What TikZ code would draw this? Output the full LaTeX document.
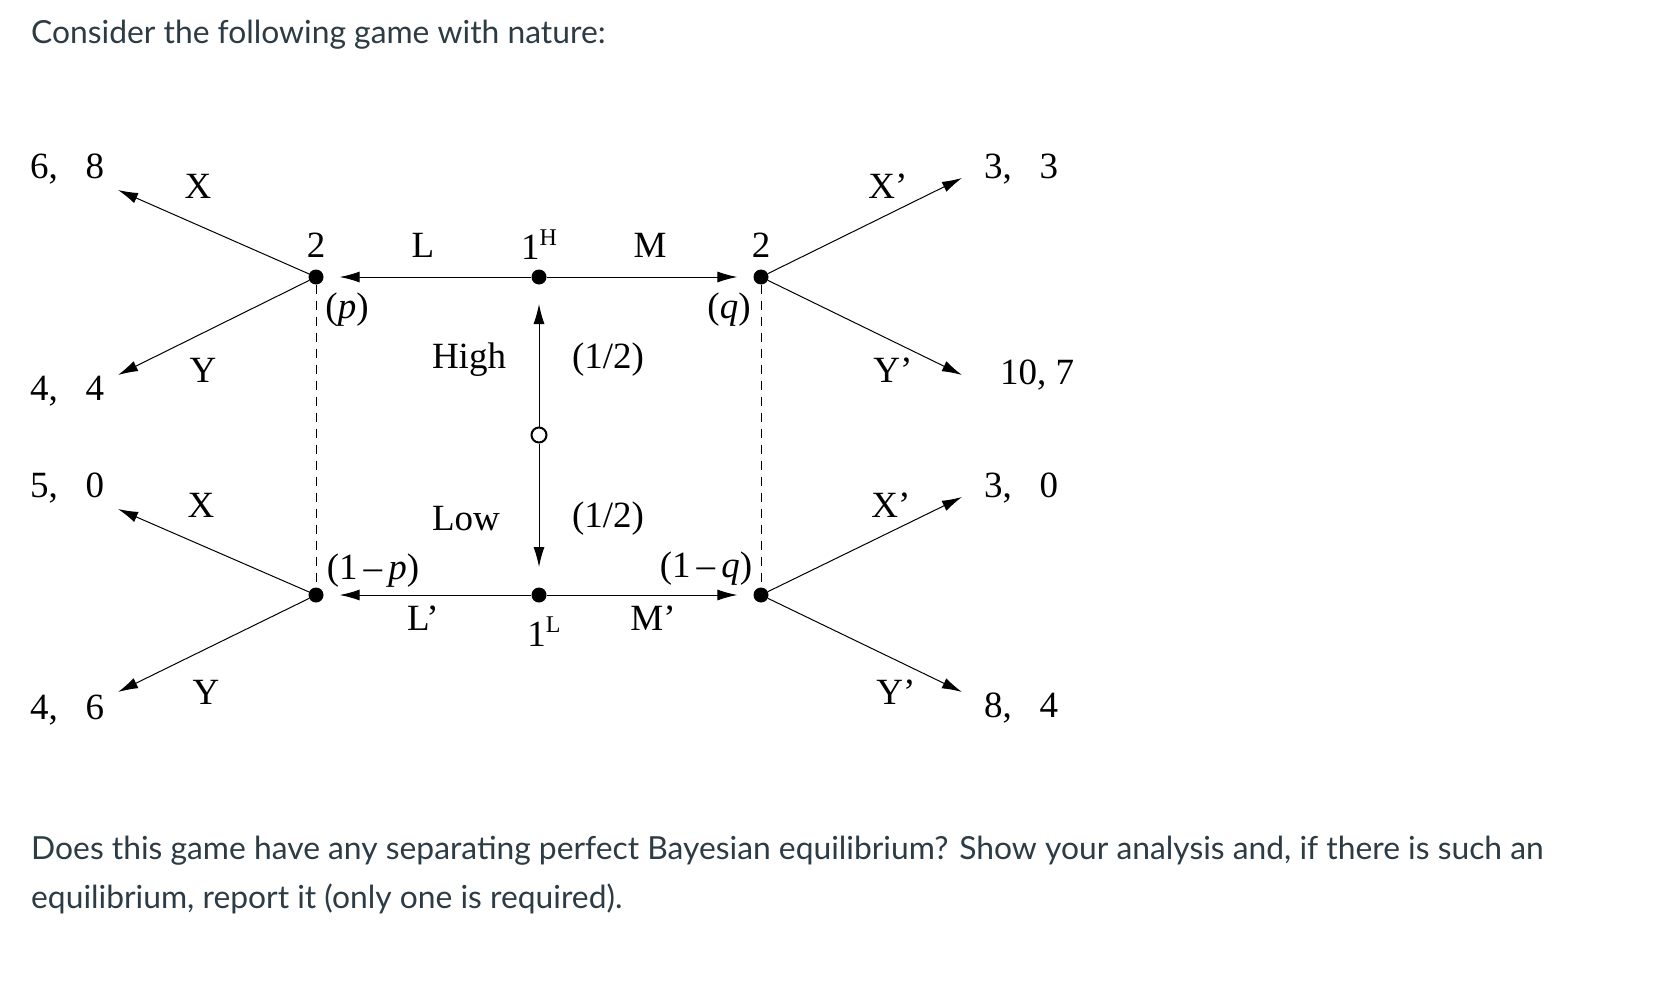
\documentclass[tikz,border=0pt]{standalone}
\usepackage{fontspec}
\setmainfont{Liberation Serif}
\newfontfamily\lato{Lato}
\usetikzlibrary{arrows.meta}
\definecolor{canvas}{HTML}{2D3B45}
\newcommand{\ap}{{\char"27}}
\begin{document}
\begin{tikzpicture}[x=1pt,y=-1pt,
 dot/.style={circle,fill=black,inner sep=0pt,minimum size=15pt},
 odot/.style={circle,draw=black,fill=white,line width=2pt,inner sep=0pt,minimum size=15pt},
 edge/.style={line width=1pt,-{Latex[length=20pt,width=11pt]}},
 lab/.style={font=\fontsize{37}{40}\selectfont,inner sep=0pt},
 prose/.style={font=\lato\fontsize{31.8}{38}\selectfont,text=canvas,anchor=west,inner sep=0pt}]
\useasboundingbox (0,0) rectangle (1656,1006);
\node[prose] (t1) at (31,35) {Consider the following game with nature:};
\node[prose] (t2) at (31,851) {Does this game have any separating perfect Bayesian equilibrium? Show your analysis and, if there is such an};
\node[prose] (t3) at (31,899) {equilibrium, report it (only one is required).};
% nodes
\node[dot] (a) at (316,277) {};
\node[dot] (h) at (539,277) {};
\node[dot] (b) at (761,277) {};
\node[odot] (n) at (539,435) {};
\node[dot] (c) at (316,595) {};
\node[dot] (l) at (539,595) {};
\node[dot] (d) at (761,595) {};
\coordinate (hT) at (539,304);
\coordinate (lT) at (539,567);
\coordinate (aX) at (118,190); \coordinate (aY) at (118,375);
\coordinate (cX) at (118,509); \coordinate (cY) at (118,692);
\coordinate (bX) at (962,178); \coordinate (bY) at (962,375);
\coordinate (dX) at (962,497); \coordinate (dY) at (962,692);
\draw[edge,shorten >=16pt] (h) -- (a); \draw[edge,shorten >=16pt] (h) -- (b);
\draw[edge,shorten >=16pt] (l) -- (c); \draw[edge,shorten >=16pt] (l) -- (d);
\draw[edge] (n) -- (hT);
\draw[edge] (n) -- (lT);
\foreach \s/\t in {a/aX,a/aY,c/cX,c/cY,b/bX,b/bY,d/dX,d/dY} \draw[edge] (\s) -- (\t);
\draw[dash pattern=on 9pt off 7pt,line width=0.8pt] (a) -- (c);
\draw[dash pattern=on 9pt off 7pt,line width=0.8pt] (b) -- (d);
% payoffs
\node[lab,anchor=west] (p1) at (30,169) {6,\ \ \ 8};
\node[lab,anchor=west] (p2) at (30,391) {4,\ \ \ 4};
\node[lab,anchor=west] (p3) at (30,488) {5,\ \ \ 0};
\node[lab,anchor=west] (p4) at (30,710) {4,\ \ \ 6};
\node[lab,anchor=west] (p5) at (984,169) {3,\ \ \ 3};
\node[lab,anchor=west] (p6) at (1000,375) {10, 7};
\node[lab,anchor=west] (p7) at (984,488) {3,\ \ \ 0};
\node[lab,anchor=west] (p8) at (984,708) {8,\ \ \ 4};
% action labels
\node[lab] (x1) at (198,186) {X};
\node[lab] (y1) at (203,370) {Y};
\node[lab] (x2) at (201,505) {X};
\node[lab] (y2) at (206,692) {Y};
\node[lab] (x3) at (888,186) {X\ap};
\node[lab] (y3) at (893,370) {Y\ap};
\node[lab] (x4) at (891,505) {X\ap};
\node[lab] (y4) at (896,692) {Y\ap};
\node[lab] (n2a) at (316,245) {2};
\node[lab] (lL) at (423,245) {L};
\node[lab] (n1h) at (539,245) {1\raisebox{14pt}{\fontsize{24}{26}\selectfont H}};
\node[lab] (lM) at (650,245) {M};
\node[lab] (n2b) at (761,245) {2};
\node[lab] (pp) at (347,310) {(\textit{p})};
\node[lab] (qq) at (729,310) {(\textit{q})};
\node[lab] (hi) at (469,360) {High};
\node[lab] (h2) at (608,360) {(1/2)};
\node[lab] (lo) at (466,519) {Low};
\node[lab] (l2) at (608,519) {(1/2)};
\node[lab] (p1m) at (373,571) {(1\,–\,\textit{p})};
\node[lab] (q1m) at (706,569) {(1\,–\,\textit{q})};
\node[lab] (lL2) at (423,618) {L\ap};
\node[lab] (n1l) at (544,632) {1\raisebox{14pt}{\fontsize{24}{26}\selectfont L}};
\node[lab] (lM2) at (653,618) {M\ap};
\end{tikzpicture}
\end{document}
